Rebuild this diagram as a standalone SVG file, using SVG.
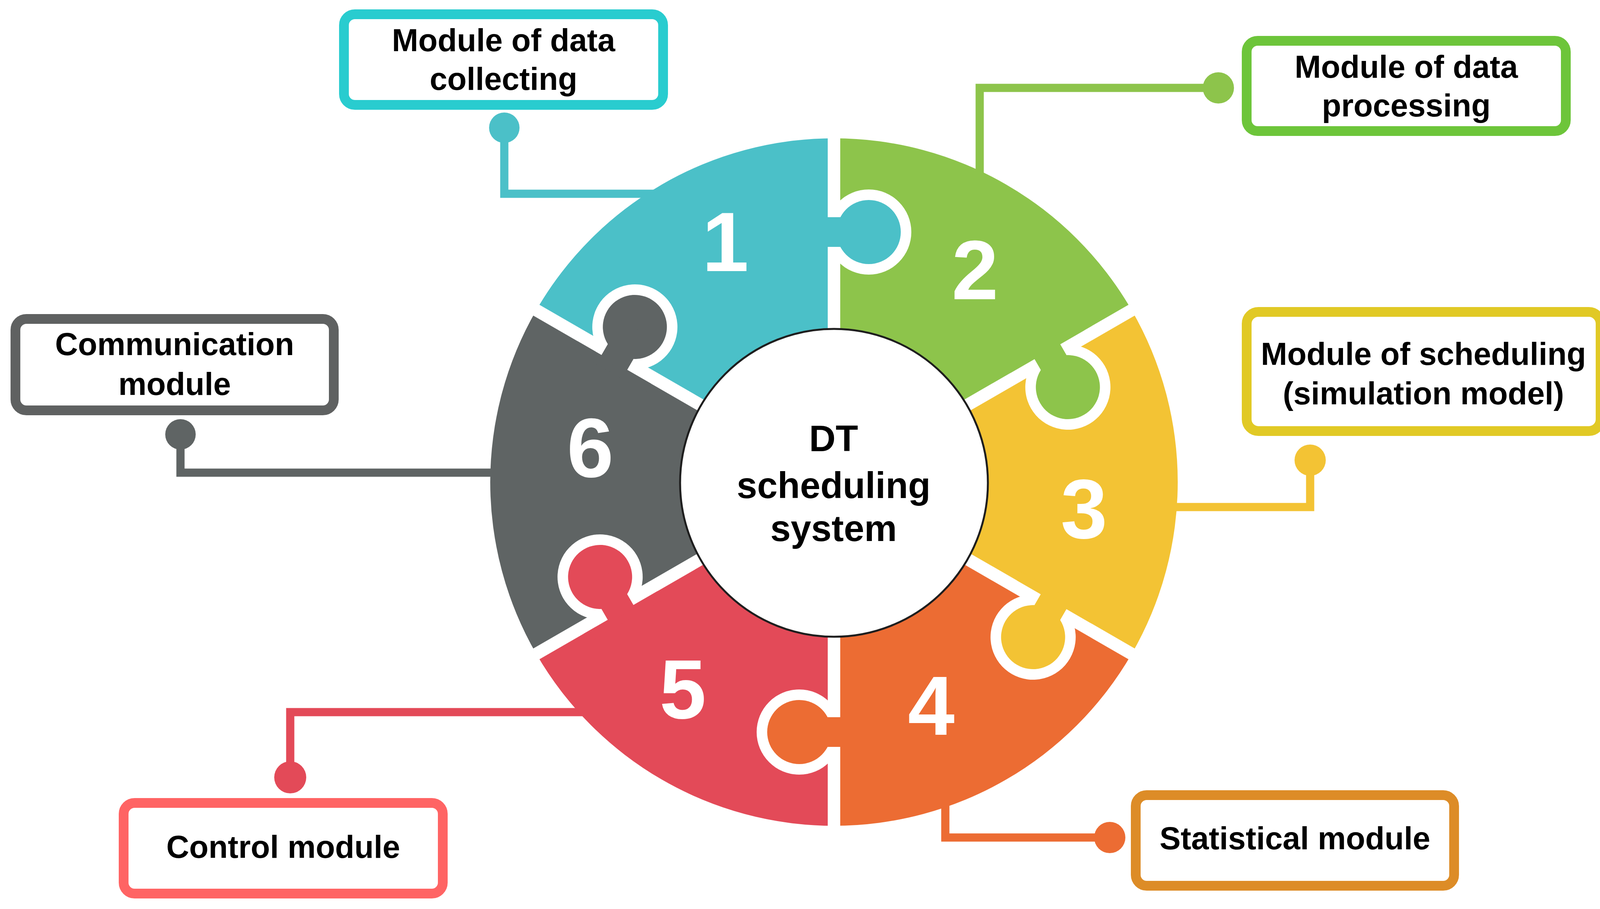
<svg xmlns="http://www.w3.org/2000/svg" width="4139" height="2327" viewBox="0 0 4139 2327">
<style>
.box{fill:#fff;stroke-width:25}
.lbl{font-family:"Liberation Sans",Arial,sans-serif;font-weight:bold;font-size:81px;fill:#000;text-anchor:middle}
.num{font-family:"Liberation Sans",Arial,sans-serif;font-weight:bold;font-size:215px;fill:#fff;text-anchor:middle}
.ctr{font-family:"Liberation Sans",Arial,sans-serif;font-weight:bold;font-size:94px;fill:#000;text-anchor:middle}
.ln{fill:none;stroke-width:21}
.gap{fill:#fff}
</style>
<rect width="4139" height="2327" fill="#fff"/>
<g id="connectors">
  <path class="ln" stroke="#4BC0C8" d="M1291 327 V496 H1690"/>
  <circle cx="1291" cy="327" r="39" fill="#4BC0C8"/>
  <path class="ln" stroke="#8DC44B" d="M3119 225 H2508 V460"/>
  <circle cx="3119" cy="225" r="40" fill="#8DC44B"/>
  <path class="ln" stroke="#F3C334" d="M3354 1178 V1298 H2990"/>
  <circle cx="3354" cy="1178" r="40" fill="#F3C334"/>
  <path class="ln" stroke="#5F6464" d="M462 1112 V1210 H1280"/>
  <circle cx="462" cy="1112" r="39" fill="#5F6464"/>
  <path class="ln" stroke="#E34A58" d="M743 1990 V1823 H1500"/>
  <circle cx="743" cy="1990" r="41" fill="#E34A58"/>
  <path class="ln" stroke="#EC6C33" d="M2841 2144 H2420 V2040"/>
  <circle cx="2841" cy="2144" r="40" fill="#EC6C33"/>
</g>
<g id="ring">
  <path id="piece1" fill="#4BC0C8" d="M1372.9 794 A880 880 0 0 1 2135 354 L2135 854 A380 380 0 0 0 1805.9 1044 Z"/>
  <path id="piece2" fill="#8DC44B" d="M2135 354 A880 880 0 0 1 2897.1 794 L2464.1 1044 A380 380 0 0 0 2135 854 Z"/>
  <path id="piece3" fill="#F3C334" d="M2897.1 794 A880 880 0 0 1 2897.1 1674 L2464.1 1424 A380 380 0 0 0 2464.1 1044 Z"/>
  <path id="piece4" fill="#EC6C33" d="M2897.1 1674 A880 880 0 0 1 2135 2114 L2135 1614 A380 380 0 0 0 2464.1 1424 Z"/>
  <path id="piece5" fill="#E34A58" d="M2135 2114 A880 880 0 0 1 1372.9 1674 L1805.9 1424 A380 380 0 0 0 2135 1614 Z"/>
  <path id="piece6" fill="#5F6464" d="M1372.9 1674 A880 880 0 0 1 1372.9 794 L1805.9 1044 A380 380 0 0 0 1805.9 1424 Z"/>
  <g transform="translate(2135 1234) rotate(-90)">
    <rect class="gap" x="360" y="-16" width="560" height="32"/>
    <circle class="gap" cx="640" cy="89" r="109"/>
    <rect fill="#4BC0C8" x="531" y="-42" width="218" height="26"/>
    <circle fill="#4BC0C8" cx="640" cy="89" r="82"/>
    <rect fill="#4BC0C8" x="602" y="-24" width="76" height="110"/>
  </g>
  <g transform="translate(2135 1234) rotate(-30)">
    <rect class="gap" x="360" y="-16" width="560" height="32"/>
    <circle class="gap" cx="640" cy="89" r="109"/>
    <rect fill="#8DC44B" x="531" y="-42" width="218" height="26"/>
    <circle fill="#8DC44B" cx="640" cy="89" r="82"/>
    <rect fill="#8DC44B" x="602" y="-24" width="76" height="110"/>
  </g>
  <g transform="translate(2135 1234) rotate(30)">
    <rect class="gap" x="360" y="-16" width="560" height="32"/>
    <circle class="gap" cx="640" cy="89" r="109"/>
    <rect fill="#F3C334" x="531" y="-42" width="218" height="26"/>
    <circle fill="#F3C334" cx="640" cy="89" r="82"/>
    <rect fill="#F3C334" x="602" y="-24" width="76" height="110"/>
  </g>
  <g transform="translate(2135 1234) rotate(90)">
    <rect class="gap" x="360" y="-16" width="560" height="32"/>
    <circle class="gap" cx="640" cy="89" r="109"/>
    <rect fill="#EC6C33" x="531" y="-42" width="218" height="26"/>
    <circle fill="#EC6C33" cx="640" cy="89" r="82"/>
    <rect fill="#EC6C33" x="602" y="-24" width="76" height="110"/>
  </g>
  <g transform="translate(2135 1234) rotate(150)">
    <rect class="gap" x="360" y="-16" width="560" height="32"/>
    <circle class="gap" cx="640" cy="89" r="109"/>
    <rect fill="#E34A58" x="531" y="-42" width="218" height="26"/>
    <circle fill="#E34A58" cx="640" cy="89" r="82"/>
    <rect fill="#E34A58" x="602" y="-24" width="76" height="110"/>
  </g>
  <g transform="translate(2135 1234) rotate(210)">
    <rect class="gap" x="360" y="-16" width="560" height="32"/>
    <circle class="gap" cx="640" cy="89" r="109"/>
    <rect fill="#5F6464" x="531" y="-42" width="218" height="26"/>
    <circle fill="#5F6464" cx="640" cy="89" r="82"/>
    <rect fill="#5F6464" x="602" y="-24" width="76" height="110"/>
  </g>
  <text class="num" x="1857" y="694">1</text>
  <text class="num" x="2496" y="766">2</text>
  <text class="num" x="2775" y="1378">3</text>
  <text class="num" x="2384" y="1881">4</text>
  <text class="num" x="1748" y="1839">5</text>
  <text class="num" x="1511" y="1221">6</text>
</g>
<g id="center">
  <circle cx="2135" cy="1236" r="394" fill="#fff" stroke="#1e1e1e" stroke-width="5"/>
  <text class="ctr" x="2134" y="1155">DT</text>
  <text class="ctr" x="2134" y="1275">scheduling</text>
  <text class="ctr" x="2134" y="1385">system</text>
</g>
<g id="node-data-collecting">
  <rect class="box" stroke="#29CCCF" x="880.5" y="36.5" width="817" height="232" rx="28"/>
  <text class="lbl" x="1289" y="131">Module of data</text>
  <text class="lbl" x="1289" y="230">collecting</text>
</g>
<g id="node-data-processing">
  <rect class="box" stroke="#6DC53A" x="3191.5" y="104.5" width="817" height="231" rx="28"/>
  <text class="lbl" x="3600" y="199">Module of data</text>
  <text class="lbl" x="3600" y="298">processing</text>
</g>
<g id="node-scheduling">
  <rect class="box" stroke="#E1C925" x="3191.5" y="798.5" width="906" height="305" rx="30"/>
  <text class="lbl" x="3644" y="934">Module of scheduling</text>
  <text class="lbl" x="3644" y="1035">(simulation model)</text>
</g>
<g id="node-communication">
  <rect class="box" stroke="#5F6161" x="39.5" y="816.5" width="815" height="234" rx="28"/>
  <text class="lbl" x="447" y="909">Communication</text>
  <text class="lbl" x="447" y="1011">module</text>
</g>
<g id="node-control">
  <rect class="box" stroke="#FF6464" x="316.5" y="2055.5" width="817" height="232" rx="28"/>
  <text class="lbl" x="725" y="2196">Control module</text>
</g>
<g id="node-statistical">
  <rect class="box" stroke="#DD8C27" x="2907.5" y="2035.5" width="815" height="232" rx="28"/>
  <text class="lbl" x="3315" y="2174">Statistical module</text>
</g>
</svg>
